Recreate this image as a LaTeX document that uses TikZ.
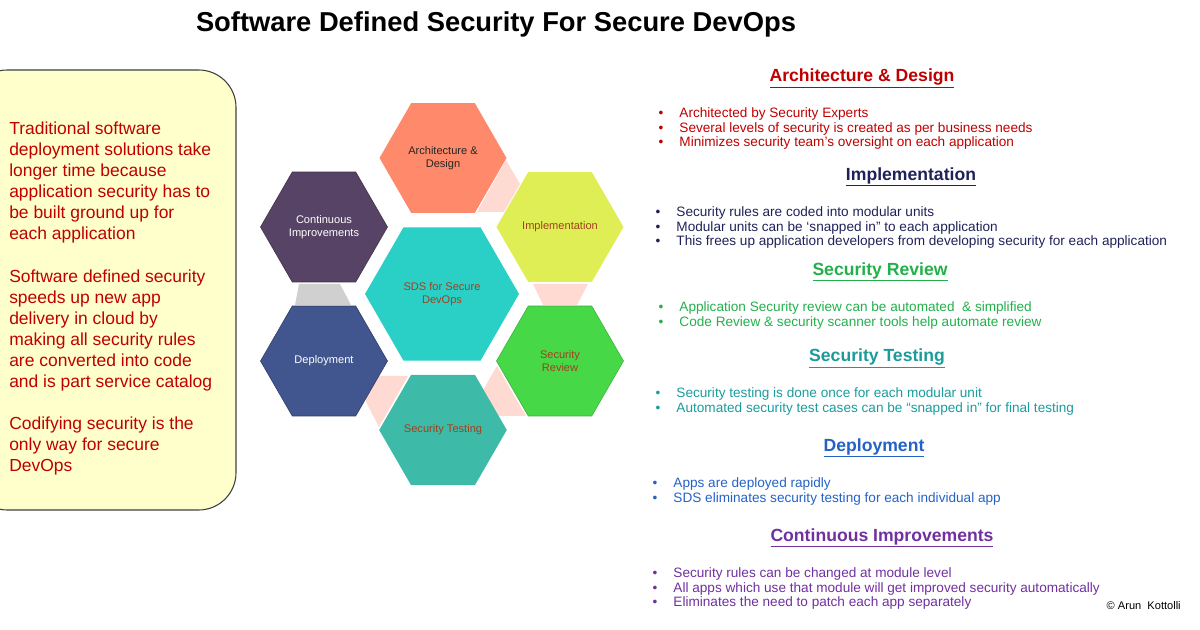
\documentclass[tikz,border=0pt]{standalone}
\usepackage{fontspec}
\setmainfont{Liberation Sans}
\usetikzlibrary{shapes.geometric}
\definecolor{cArch}{HTML}{FF8A6B}
\definecolor{cImpl}{HTML}{E0EE55}
\definecolor{cRev}{HTML}{47D847}
\definecolor{cTest}{HTML}{3DBBA8}
\definecolor{cDep}{HTML}{41558E}
\definecolor{cCont}{HTML}{574365}
\definecolor{cSDS}{HTML}{2AD0C6}
\definecolor{cPink}{HTML}{FFDAD3}
\definecolor{cGray}{HTML}{D0D0D0}
\definecolor{tRed}{HTML}{C00000}
\definecolor{tNavy}{HTML}{1F2258}
\definecolor{tGreen}{HTML}{22B04B}
\definecolor{tTeal}{HTML}{1A9C9C}
\definecolor{tBlue}{HTML}{2462C8}
\definecolor{tPurp}{HTML}{7030A0}
\definecolor{tHex}{HTML}{A0421E}
\definecolor{boxfill}{HTML}{FFFFCC}
\tikzset{
 hex/.style={regular polygon, regular polygon sides=6, inner sep=0pt, minimum size=127*0.75pt, align=center, font=\fontsize{8.3}{9.5}\selectfont},
 head/.style={font=\fontsize{13.2}{14}\selectfont\bfseries, anchor=center},
 blt/.style={anchor=west, font=\fontsize{10.2}{11}\selectfont},
 lefttxt/.style={anchor=north west, align=left, font=\fontsize{13.1}{15.75}\selectfont, text=tRed, inner sep=0pt}
}
\begin{document}
\begin{tikzpicture}[x=0.75pt,y=-0.75pt]
\useasboundingbox (0,0) rectangle (1200,630);
\node[anchor=center, font=\fontsize{20.5}{22}\selectfont\bfseries] (title) at (496,24) {Software Defined Security For Secure DevOps};
% left box
\draw[fill=boxfill, draw=black!75, rounded corners=28pt, line width=0.8pt] (-30,70) rectangle (236,510);
\node[lefttxt] (l1) at (9,122) {Traditional software\\deployment solutions take\\longer time because\\application security has to\\be built ground up for\\each application};
\node[lefttxt] (l2) at (9,270) {Software defined security\\speeds up new app\\delivery in cloud by\\making all security rules\\are converted into code\\and is part service catalog};
\node[lefttxt] (l3) at (9,417) {Codifying security is the\\only way for secure\\DevOps};
% connectors
\fill[cPink] (506,160) -- (520,184) -- (504,212) -- (477,212) -- cycle;
\fill[cPink] (533,284) -- (588,284) -- (577,305) -- (543,305) -- cycle;
\fill[cPink] (497,366) -- (526,416) -- (486,416) -- (483,390) -- cycle;
\fill[cPink] (366,376) -- (408,376) -- (379,427) -- (366,402) -- cycle;
\fill[cGray] (299,284) -- (340,284) -- (351,305) -- (295,305) -- cycle;
% hexagons
\node[hex, fill=cArch, text=black!85] (arch) at (443,158) {Architecture \&\\Design};
\node[hex, fill=cImpl, text=tHex] (impl) at (560,227) {Implementation};
\node[hex, fill=cCont, draw=cCont!70!black, text=white] (cont) at (324,227) {Continuous\\Improvements};
\node[hex, fill=cSDS, text=tHex, minimum size=154*0.75pt] (sds) at (442,294) {SDS for Secure\\DevOps};
\node[hex, fill=cDep, draw=cDep!70!black, text=white] (dep) at (324,361) {Deployment};
\node[hex, fill=cRev, draw=cRev!80!black, text=tHex] (rev) at (560,361) {Security\\Review};
\node[hex, fill=cTest, text=tHex] (test) at (443,430) {Security  Testing};
% right texts
\node[head, text=tRed] (h1) at (862,78) {\underline{Architecture \& Design}};
\foreach \y/\t in {114/{Architected by Security Experts},129/{Several levels of security is created as per business needs},143/{Minimizes security team's oversight on each application}}
 {\node[blt, text=tRed] at (654,\y) {•\hspace{12pt}\t};}
\node[head, text=tNavy] (h2) at (911,177) {\underline{Implementation}};
\foreach \y/\t in {213/{Security rules are coded into modular units},228/{Modular units can be ‘snapped in” to each application},242/{This frees up application developers from developing security for each application}}
 {\node[blt, text=tNavy] at (651,\y) {•\hspace{12pt}\t};}
\node[head, text=tGreen] (h3) at (880,272) {\underline{Security Review}};
\foreach \y/\t in {308/{Application Security review can be automated \ \& simplified},323/{Code Review \& security scanner tools help automate review}}
 {\node[blt, text=tGreen] at (654,\y) {•\hspace{12pt}\t};}
\node[head, text=tTeal] (h4) at (877,358) {\underline{Security Testing}};
\foreach \y/\t in {394/{Security testing is done once for each modular unit},409/{Automated security test cases can be “snapped in” for final testing}}
 {\node[blt, text=tTeal] at (651,\y) {•\hspace{12pt}\t};}
\node[head, text=tBlue] (h5) at (874,448) {\underline{Deployment}};
\foreach \y/\t in {484/{Apps are deployed rapidly},499/{SDS eliminates security testing for each individual app}}
 {\node[blt, text=tBlue] at (648,\y) {•\hspace{12pt}\t};}
\node[head, text=tPurp] (h6) at (882,538) {\underline{Continuous Improvements}};
\foreach \y/\t in {574/{Security rules can be changed at module level},589/{All apps which use that module will get improved security automatically},603/{Eliminates the need to patch each app separately}}
 {\node[blt, text=tPurp] at (648,\y) {•\hspace{12pt}\t};}
\node[anchor=west, font=\fontsize{8.3}{9}\selectfont] (copy) at (1102,606) {© Arun \ Kottolli};
\end{tikzpicture}
\end{document}
